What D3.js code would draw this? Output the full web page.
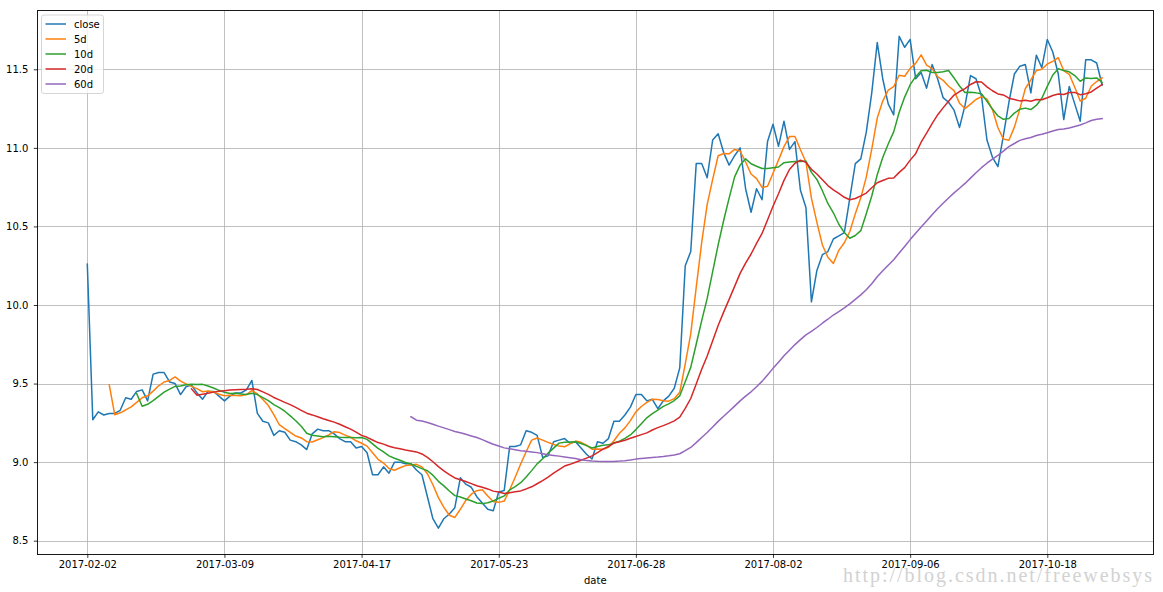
<!DOCTYPE html>
<html>
<head>
<meta charset="utf-8">
<script src="https://cdn.jsdelivr.net/npm/d3@7"></script>
<style>
  html, body { margin: 0; padding: 0; background: #ffffff; }
  svg { display: block; }
  text { font-family: "DejaVu Sans", sans-serif; }
</style>
</head>
<body>
<svg id="chart" width="1163" height="592"></svg>
<script>
// ---------- data ----------
const tickLabels = ["2017-02-02","2017-03-09","2017-04-17","2017-05-23","2017-06-28","2017-08-02","2017-09-06","2017-10-18"];
const tickIndex = [0,25,50,75,100,125,150,175];
const yTicks = [8.5,9.0,9.5,10.0,10.5,11.0,11.5];
const seriesNames = ["close","5d","10d","20d","60d"];

const close = [10.26,9.27,9.32,9.30,9.31,9.31,9.33,9.41,9.40,9.45,
9.46,9.39,9.56,9.57,9.57,9.51,9.50,9.43,9.48,9.49,
9.44,9.40,9.45,9.45,9.42,9.39,9.42,9.44,9.44,9.46,
9.52,9.31,9.26,9.25,9.17,9.20,9.19,9.14,9.13,9.11,
9.08,9.18,9.21,9.20,9.20,9.18,9.15,9.13,9.13,9.09,
9.10,9.06,8.92,8.92,8.97,8.93,9.00,9.00,8.99,8.99,
8.95,8.92,8.78,8.64,8.58,8.64,8.67,8.71,8.90,8.86,
8.84,8.78,8.74,8.70,8.69,8.81,8.82,9.10,9.10,9.11,
9.20,9.19,9.17,9.03,9.04,9.13,9.14,9.15,9.12,9.13,
9.09,9.05,9.02,9.13,9.12,9.15,9.26,9.26,9.30,9.35,
9.43,9.43,9.39,9.40,9.34,9.39,9.42,9.47,9.60,10.25,
10.34,10.90,10.90,10.81,11.05,11.09,10.97,10.89,10.95,11.00,
10.74,10.59,10.74,10.67,11.04,11.15,11.01,11.17,10.99,11.04,
10.73,10.62,10.02,10.22,10.32,10.34,10.42,10.44,10.46,10.68,
10.90,10.93,11.10,11.35,11.67,11.44,11.28,11.21,11.71,11.64,
11.69,11.44,11.48,11.38,11.53,11.44,11.32,11.29,11.24,11.13,
11.27,11.46,11.44,11.33,11.05,10.94,10.88,11.08,11.29,11.47,
11.52,11.53,11.35,11.59,11.51,11.69,11.61,11.47,11.18,11.39,
11.28,11.17,11.56,11.56,11.54,11.40];

const ma5 = [9.492,9.302,9.314,9.332,9.352,9.380,
9.410,9.422,9.452,9.486,9.510,9.520,9.542,9.516,9.498,9.482,
9.468,9.448,9.452,9.446,9.432,9.422,9.426,9.424,9.422,9.430,
9.456,9.434,9.398,9.360,9.302,9.238,9.214,9.190,9.166,9.154,
9.130,9.128,9.142,9.156,9.174,9.194,9.188,9.172,9.158,9.136,
9.120,9.102,9.060,9.018,8.994,8.960,8.948,8.964,8.978,8.982,
8.986,8.970,8.926,8.856,8.774,8.712,8.662,8.648,8.700,8.756,
8.796,8.818,8.824,8.784,8.750,8.744,8.752,8.824,8.904,8.988,
9.066,9.140,9.154,9.140,9.126,9.112,9.102,9.098,9.116,9.134,
9.126,9.108,9.082,9.084,9.082,9.094,9.136,9.184,9.218,9.264,
9.320,9.354,9.380,9.400,9.398,9.390,9.388,9.404,9.444,9.626,
9.816,10.112,10.398,10.640,10.800,10.950,10.964,10.962,10.990,10.980,
10.910,10.834,10.804,10.748,10.756,10.838,10.922,11.008,11.072,11.072,
10.988,10.910,10.680,10.526,10.382,10.304,10.264,10.348,10.396,10.468,
10.580,10.682,10.814,10.992,11.190,11.298,11.368,11.390,11.462,11.456,
11.506,11.538,11.592,11.526,11.504,11.454,11.430,11.392,11.364,11.284,
11.250,11.278,11.308,11.326,11.310,11.244,11.128,11.056,11.048,11.132,
11.248,11.378,11.432,11.492,11.500,11.534,11.550,11.574,11.492,11.468,
11.386,11.298,11.316,11.392,11.422,11.446];

const ma10 = [9.436,
9.356,9.368,9.392,9.419,9.445,9.465,9.482,9.484,9.492,9.496,
9.494,9.495,9.484,9.472,9.457,9.445,9.437,9.438,9.434,9.431,
9.439,9.430,9.411,9.391,9.366,9.347,9.324,9.294,9.263,9.228,
9.184,9.171,9.166,9.161,9.164,9.162,9.158,9.157,9.157,9.155,
9.157,9.145,9.116,9.088,9.065,9.040,9.025,9.012,8.998,8.988,
8.973,8.959,8.945,8.917,8.878,8.849,8.816,8.787,8.778,8.765,
8.754,8.740,8.736,8.742,8.753,8.770,8.785,8.824,8.844,8.869,
8.905,8.946,8.989,9.022,9.057,9.089,9.121,9.126,9.128,9.130,
9.119,9.105,9.090,9.100,9.108,9.110,9.122,9.133,9.151,9.173,
9.207,9.245,9.282,9.309,9.331,9.355,9.371,9.392,9.422,9.512,
9.603,9.750,9.901,10.042,10.213,10.383,10.538,10.680,10.815,10.890,
10.930,10.899,10.883,10.869,10.868,10.874,10.878,10.906,10.910,10.914,
10.913,10.916,10.844,10.799,10.727,10.646,10.587,10.514,10.461,10.425,
10.442,10.473,10.581,10.694,10.829,10.939,11.025,11.102,11.227,11.323,
11.402,11.453,11.491,11.494,11.480,11.480,11.484,11.492,11.445,11.394,
11.352,11.354,11.350,11.345,11.297,11.247,11.203,11.182,11.187,11.221,
11.246,11.253,11.244,11.270,11.316,11.391,11.464,11.503,11.492,11.484,
11.460,11.424,11.445,11.442,11.445,11.416];

const ma20 = [9.466,
9.425,9.4315,9.438,9.4455,9.451,9.455,9.4595,9.461,9.463,9.4635,
9.4665,9.4625,9.4475,9.4315,9.4115,9.396,9.3805,9.366,9.3485,9.3295,
9.3115,9.3005,9.2885,9.276,9.265,9.2545,9.241,9.2255,9.21,9.1915,
9.1705,9.158,9.141,9.1245,9.1145,9.101,9.0915,9.0845,9.0775,9.0715,
9.065,9.052,9.0305,9.0025,8.9715,8.9445,8.9205,8.8995,8.888,8.8765,
8.8635,8.8495,8.8405,8.8295,8.8155,8.8095,8.8005,8.8055,8.811,8.817,
8.8295,8.843,8.8625,8.882,8.905,8.9295,8.953,8.975,8.986,8.9995,
9.012,9.0255,9.0395,9.061,9.0825,9.0995,9.1215,9.1295,9.1395,9.1515,
9.163,9.175,9.186,9.2045,9.2195,9.2325,9.2465,9.2625,9.2865,9.3425,
9.405,9.4975,9.5915,9.6755,9.772,9.869,9.9545,10.036,10.1185,10.201,
10.2665,10.3245,10.392,10.4555,10.5405,10.6285,10.708,10.793,10.8625,10.902,
10.9215,10.9075,10.8635,10.834,10.7975,10.76,10.7325,10.71,10.6855,10.6695,
10.6775,10.6945,10.7125,10.7465,10.778,10.7925,10.806,10.808,10.844,10.874,
10.922,10.963,11.036,11.094,11.1545,11.2095,11.2545,11.297,11.336,11.3585,
11.377,11.4035,11.4205,11.4195,11.3885,11.3635,11.3435,11.337,11.316,11.3075,
11.299,11.3035,11.297,11.3075,11.3065,11.319,11.3335,11.3425,11.3395,11.3525,
11.353,11.3385,11.3445,11.356,11.3805,11.4035];

const ma60 = [9.289,
9.2672,9.2613,9.2523,9.2413,9.2292,9.218,9.207,9.1953,9.187,9.1772,
9.1668,9.1567,9.143,9.1285,9.1138,9.1022,9.0908,9.0853,9.079,9.0727,
9.0687,9.0652,9.0605,9.0535,9.0472,9.0428,9.0382,9.0333,9.028,9.0225,
9.0153,9.011,9.007,9.005,9.0042,9.0033,9.0045,9.0065,9.0093,9.0133,
9.0192,9.0233,9.0263,9.0297,9.032,9.0355,9.04,9.0457,9.0535,9.0728,
9.0935,9.1242,9.1572,9.1887,9.2233,9.2593,9.2922,9.3237,9.3563,9.3898,
9.4197,9.4475,9.4802,9.514,9.555,9.5968,9.6358,9.6768,9.7117,9.748,
9.7795,9.8102,9.8315,9.8568,9.884,9.9095,9.9362,9.9585,9.9812,10.0073,
10.0357,10.0647,10.0968,10.1355,10.1793,10.2178,10.2535,10.2878,10.331,10.3728,
10.4162,10.456,10.497,10.5345,10.5747,10.6128,10.6472,10.681,10.7133,10.743,
10.7737,10.8075,10.8417,10.8738,10.9023,10.9282,10.9525,10.9793,11.0075,11.0278,
11.0475,11.058,11.0655,11.0785,11.0862,11.0962,11.1068,11.1165,11.1203,11.1268,
11.1358,11.1455,11.1592,11.174,11.1823,11.1865];

// ---------- layout ----------
const W = 1163, H = 592;
const L = 37.3, R = 1153.3, T = 10.7, B = 554.3;
const colors = ["#1f77b4","#ff7f0e","#2ca02c","#d62728","#9467bd"];

const svg = d3.select("#chart");

const x = d3.scaleLinear().domain([0, 175]).range([87.3, 1047.3]);
const y = d3.scaleLinear().domain([8.5, 11.5]).range([540.7, 69.3]);

// watermark (behind everything)
svg.append("text")
  .attr("x", 843).attr("y", 581.5)
  .attr("textLength", 309).attr("lengthAdjust", "spacing")
  .style("font-family", "'Liberation Serif', 'DejaVu Serif', serif")
  .style("font-size", "20px")
  .attr("fill", "#d2d2d2")
  .text("http://blog.csdn.net/freewebsys");

// grid
const grid = svg.append("g").attr("shape-rendering", "crispEdges");
grid.selectAll(".vg").data(tickIndex).join("line")
  .attr("x1", d => Math.round(x(d)) + 0.5).attr("x2", d => Math.round(x(d)) + 0.5)
  .attr("y1", T).attr("y2", B)
  .attr("stroke", "#b0b0b0").attr("stroke-width", 0.8);
grid.selectAll(".hg").data(yTicks).join("line")
  .attr("y1", d => Math.round(y(d)) + 0.5).attr("y2", d => Math.round(y(d)) + 0.5)
  .attr("x1", L).attr("x2", R)
  .attr("stroke", "#b0b0b0").attr("stroke-width", 0.8);

// clip
svg.append("clipPath").attr("id", "plotclip")
  .append("rect").attr("x", L).attr("y", T).attr("width", R - L).attr("height", B - T);

const seriesData = [close, ma5, ma10, ma20, ma60].map(arr => {
  const start = close.length - arr.length;
  return arr.map((v, i) => ({ i: start + i, v }));
});

const line = d3.line().x(d => x(d.i)).y(d => y(d.v));
const lines = svg.append("g").attr("clip-path", "url(#plotclip)");
seriesData.forEach((s, k) => {
  lines.append("path")
    .datum(s)
    .attr("d", line)
    .attr("fill", "none")
    .attr("stroke", colors[k])
    .attr("stroke-width", 1.5)
    .attr("stroke-linejoin", "round")
    .attr("stroke-linecap", "square");
});

// axes
const xAxis = d3.axisBottom(x)
  .tickValues(tickIndex)
  .tickFormat((d, i) => tickLabels[i])
  .tickSize(3.5).tickPadding(3.5);
const gx = svg.append("g").attr("transform", `translate(0,${B})`).call(xAxis);
gx.select(".domain").remove();
gx.selectAll(".tick line").attr("stroke", "#000").attr("stroke-width", 0.8);
gx.selectAll(".tick text").style("font-size", "10px").style("font-family", "'DejaVu Sans', sans-serif").attr("fill", "#000");

const yAxis = d3.axisLeft(y)
  .tickValues(yTicks)
  .tickFormat(d3.format(".1f"))
  .tickSize(3.5).tickPadding(5.5);
const gy = svg.append("g").attr("transform", `translate(${L},0)`).call(yAxis);
gy.select(".domain").remove();
gy.selectAll(".tick line").attr("stroke", "#000").attr("stroke-width", 0.8);
gy.selectAll(".tick text").style("font-size", "10px").style("font-family", "'DejaVu Sans', sans-serif").attr("fill", "#000");

// frame
svg.append("rect")
  .attr("x", L).attr("y", T).attr("width", R - L).attr("height", B - T)
  .attr("fill", "none").attr("stroke", "#000").attr("stroke-width", 0.9)
  .attr("shape-rendering", "crispEdges");

// x label
svg.append("text")
  .attr("x", (L + R) / 2).attr("y", 584)
  .attr("text-anchor", "middle")
  .style("font-size", "10px")
  .text("date");

// legend
const lg = svg.append("g");
lg.append("rect")
  .attr("x", 41.5).attr("y", 15).attr("width", 62).attr("height", 78.5)
  .attr("rx", 2.5).attr("ry", 2.5)
  .attr("fill", "#ffffff").attr("fill-opacity", 0.8)
  .attr("stroke", "#cccccc").attr("stroke-width", 0.8);
seriesNames.forEach((name, k) => {
  const yy = 24 + 15 * k;
  lg.append("line")
    .attr("x1", 45.5).attr("x2", 66).attr("y1", yy).attr("y2", yy)
    .attr("stroke", colors[k]).attr("stroke-width", 1.5);
  lg.append("text")
    .attr("x", 74).attr("y", yy)
    .attr("dy", "0.35em")
    .style("font-size", "10px")
    .text(name);
});
</script>
</body>
</html>
